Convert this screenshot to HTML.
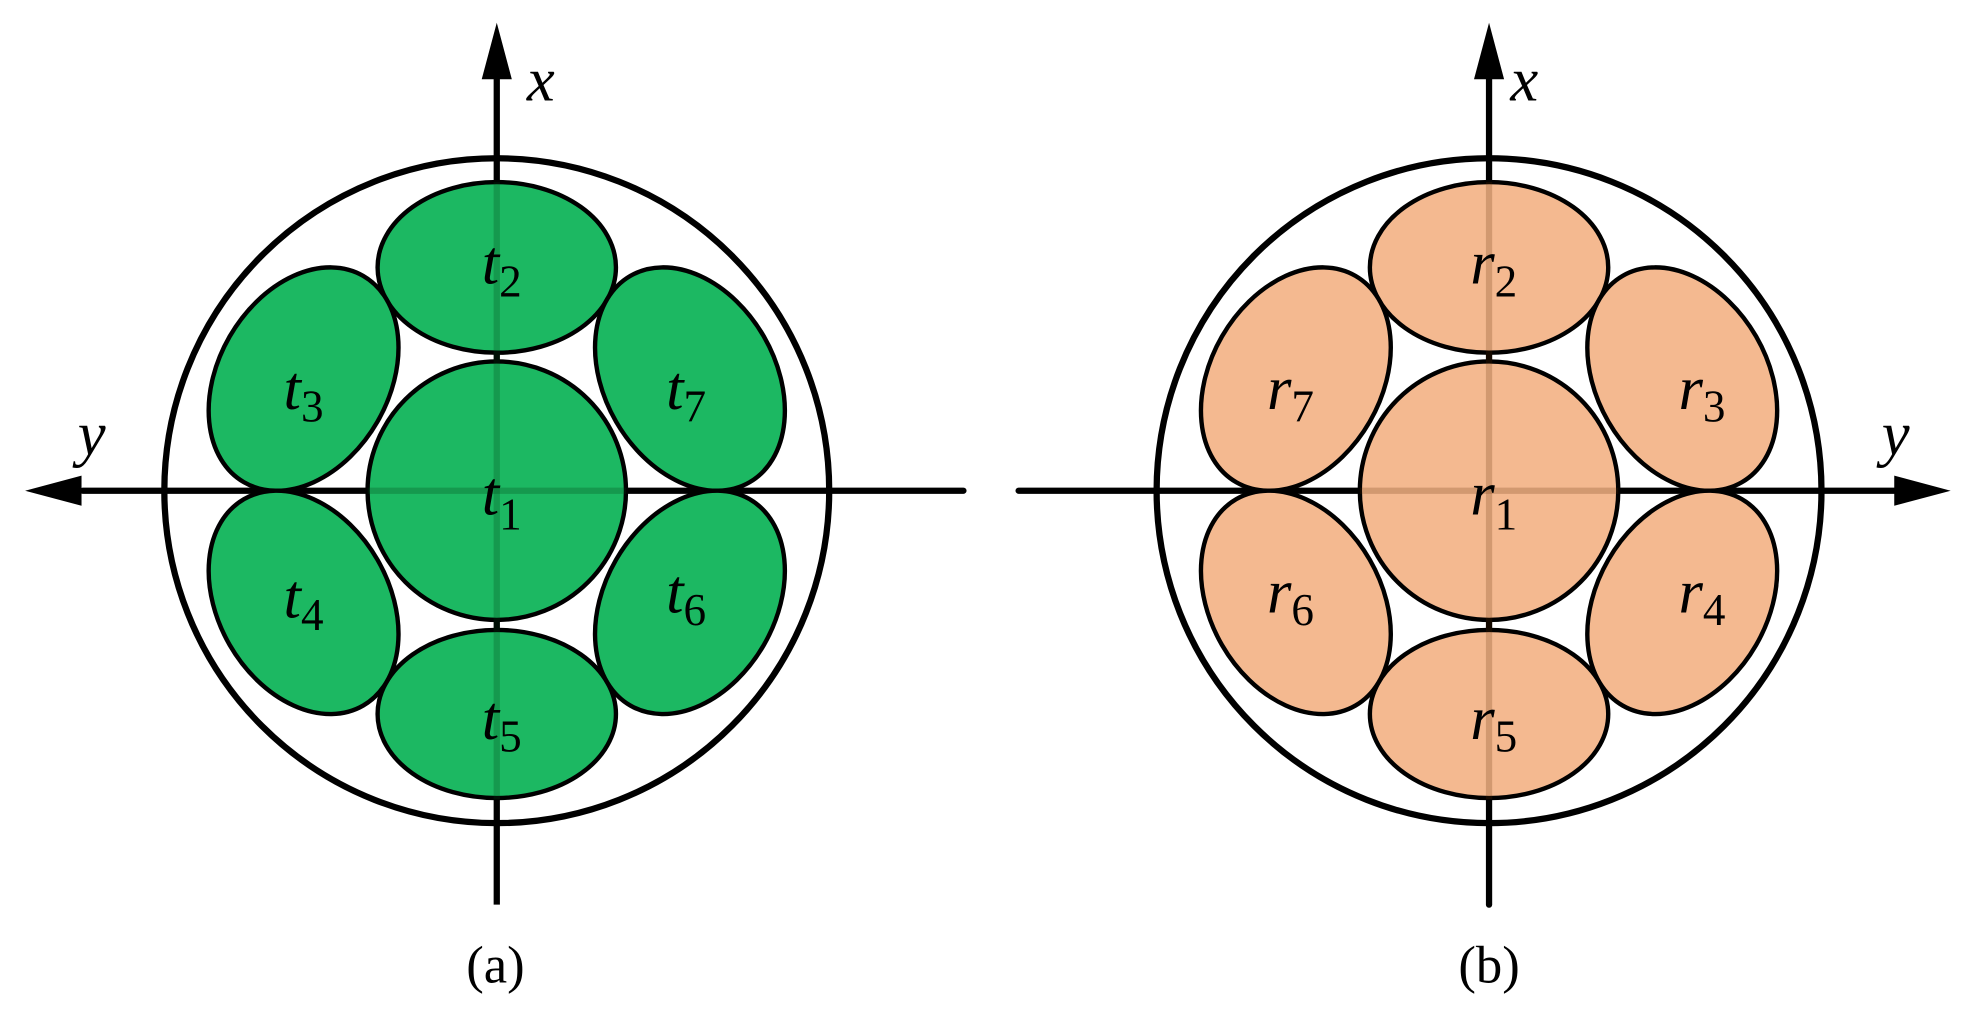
<!DOCTYPE html>
<html><head><meta charset="utf-8"><style>
html,body{margin:0;padding:0;background:#fff;}
svg{display:block;}
text{font-family:"Liberation Serif",serif;}
.lab{font-style:italic;font-size:50px;}
.sub{font-style:normal;font-size:36px;}
</style></head><body>
<svg width="1967" height="1009" viewBox="0 0 1568 804" xmlns="http://www.w3.org/2000/svg">
<defs>
<g id="shapes">
  <circle cx="0" cy="0" r="103"/>
  <ellipse cx="0" cy="-178" rx="95" ry="68"/>
  <ellipse cx="0" cy="178" rx="95" ry="67"/>
  <ellipse transform="translate(-154,-89) rotate(-60)" rx="95" ry="68"/>
  <ellipse transform="translate(154,-89) rotate(60)" rx="95" ry="68"/>
  <ellipse transform="translate(-154,89) rotate(60)" rx="95" ry="68"/>
  <ellipse transform="translate(154,89) rotate(-60)" rx="95" ry="68"/>
</g>
</defs>

<!-- Panel a -->
<g transform="translate(396,391)">
  <line x1="0" y1="-330" x2="0" y2="330" stroke="#000" stroke-width="5"/>
  <line x1="-330" y1="0" x2="372" y2="0" stroke="#000" stroke-width="5" stroke-linecap="round"/>
  <polygon points="0,-373 -12,-328 12,-328" fill="#000"/>
  <polygon points="-376,0 -331,-12 -331,12" fill="#000"/>
  <circle r="265" fill="none" stroke="#000" stroke-width="5"/>
  <use href="#shapes" fill="#1cb862" stroke="#000" stroke-width="3.5"/>
  <line x1="0" y1="-246" x2="0" y2="246" stroke="rgba(0,60,20,0.25)" stroke-width="5"/>
  <line x1="-103" y1="0" x2="103" y2="0" stroke="rgba(0,60,20,0.25)" stroke-width="5"/>
</g>
<text x="420" y="80" class="lab" font-size="44">x</text>
<text x="62" y="362" class="lab" font-size="44">y</text>
<text x="395" y="783" text-anchor="middle" font-size="42">(a)</text>
<g class="lab">
  <text x="384" y="226">t<tspan class="sub" dy="10">2</tspan></text>
  <text x="226" y="326">t<tspan class="sub" dy="10">3</tspan></text>
  <text x="531" y="326">t<tspan class="sub" dy="10">7</tspan></text>
  <text x="384" y="410">t<tspan class="sub" dy="12">1</tspan></text>
  <text x="226" y="492">t<tspan class="sub" dy="10">4</tspan></text>
  <text x="531" y="488">t<tspan class="sub" dy="10">6</tspan></text>
  <text x="384" y="589">t<tspan class="sub" dy="10">5</tspan></text>
</g>

<!-- Panel b -->
<g transform="translate(1187,391)">
  <line x1="0" y1="-330" x2="0" y2="330" stroke="#000" stroke-width="5" stroke-linecap="round"/>
  <line x1="-375" y1="0" x2="330" y2="0" stroke="#000" stroke-width="5" stroke-linecap="round"/>
  <polygon points="0,-373 -12,-328 12,-328" fill="#000"/>
  <polygon points="368,0 323,-12 323,12" fill="#000"/>
  <circle r="265" fill="none" stroke="#000" stroke-width="5"/>
  <use href="#shapes" fill="#f4b990" stroke="#000" stroke-width="3.5"/>
  <line x1="0" y1="-246" x2="0" y2="246" stroke="rgba(90,40,0,0.22)" stroke-width="5"/>
  <line x1="-103" y1="0" x2="103" y2="0" stroke="rgba(90,40,0,0.22)" stroke-width="5"/>
</g>
<text x="1204" y="80" class="lab" font-size="44">x</text>
<text x="1500" y="362" class="lab" font-size="44">y</text>
<text x="1187" y="783" text-anchor="middle" font-size="42">(b)</text>
<g class="lab">
  <text x="1172" y="226">r<tspan class="sub" dy="10">2</tspan></text>
  <text x="1010" y="326">r<tspan class="sub" dy="10">7</tspan></text>
  <text x="1338" y="326">r<tspan class="sub" dy="10">3</tspan></text>
  <text x="1172" y="410">r<tspan class="sub" dy="12">1</tspan></text>
  <text x="1010" y="488">r<tspan class="sub" dy="10">6</tspan></text>
  <text x="1338" y="488">r<tspan class="sub" dy="10">4</tspan></text>
  <text x="1172" y="589">r<tspan class="sub" dy="10">5</tspan></text>
</g>
</svg>
</body></html>
